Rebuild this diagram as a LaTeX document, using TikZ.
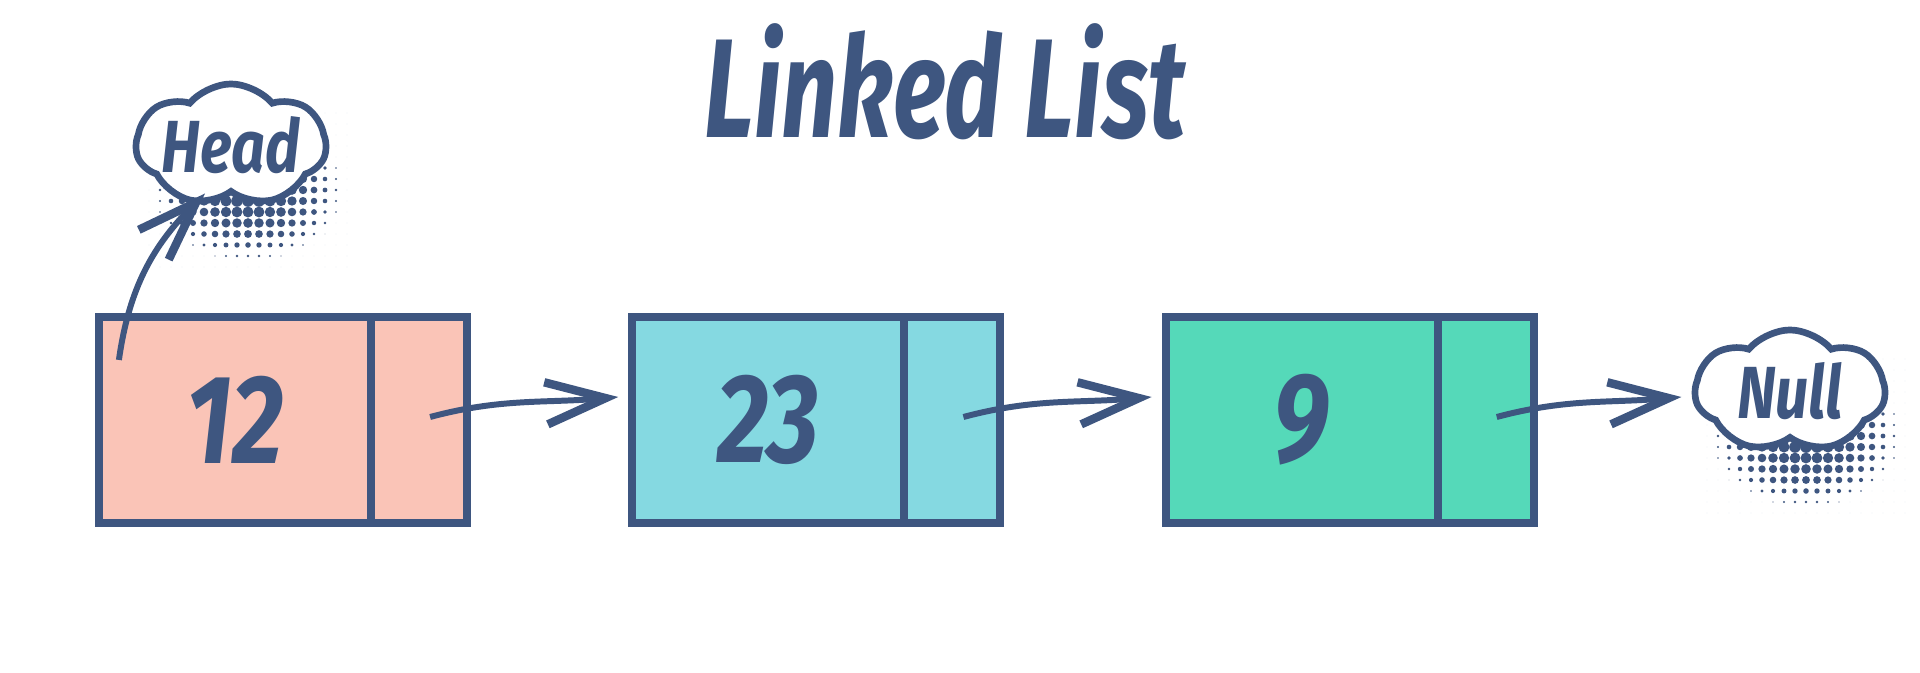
\documentclass[tikz,border=0pt]{standalone}
\usepackage{fontspec}
\setmainfont{Fira Sans}
\newfontfamily\handfont[FakeStretch=0.8]{Fira Sans}
\newfontfamily\titlefont[FakeStretch=0.7]{Fira Sans}
\usetikzlibrary{positioning,arrows.meta,shapes.symbols}

\definecolor{ink}{RGB}{62,86,128}
\definecolor{salmon}{RGB}{250,196,183}
\definecolor{aqua}{RGB}{133,217,225}
\definecolor{mint}{RGB}{85,217,185}

\begin{document}
\begin{tikzpicture}[x=0.01cm,y=0.01cm,
  cell/.style={draw=ink,line width=2.3pt,outer sep=0pt,inner sep=0pt,minimum height=2.06cm},
  datacell/.style={cell,minimum width=2.72cm,text=ink,font=\handfont\bfseries\itshape\fontsize{36}{36}\selectfont},
  ptrcell/.style={cell,minimum width=0.96cm},
  link/.style={ink,line width=1.7pt,-{Straight Barb[length=17pt,width=12pt,line width=2.4pt]}},
  bubble/.style={cloud,cloud puffs=7,cloud puff arc=100,aspect=1.55,draw=ink,line width=1.9pt,fill=white,minimum width=1.9cm,minimum height=1.22cm,inner sep=0pt},
  tag/.style={text=ink,font=\handfont\bfseries\itshape\fontsize{21}{21}\selectfont}
]
\useasboundingbox[fill=white] (0,0) rectangle (1920,672);

% Title
\node[text=ink,font=\titlefont\bfseries\itshape\fontsize{40}{40}\selectfont] (title) at (945,590) {Linked List};

% List nodes
\node[datacell,fill=salmon] (n1) at (235,252) {12};
\node[ptrcell,fill=salmon,right=0pt of n1] (p1) {};
\node[datacell,fill=aqua,right=1.65cm of p1] (n2) {23};
\node[ptrcell,fill=aqua,right=0pt of n2] (p2) {};
\node[datacell,fill=mint,right=1.65cm of p2] (n3) {9};
\node[ptrcell,fill=mint,right=0pt of n3] (p3) {};

% Halftone shadows behind the clouds
\foreach \cx/\cy in {248/482,1806/236}
  \foreach \i in {-9,...,9}
    \foreach \j in {-7,...,7} {
      \pgfmathsetmacro\dotr{max(0.01,1.7*(1-(\i*11/100)^2-(\j*11/75)^2))}
      \fill[ink] (\cx+\i*11,\cy+\j*11) circle (\dotr pt);
    }

% Clouds
\node[bubble] (headcloud) at (231,527) {};
\node[tag] (headtxt) at (headcloud) {Head};
\node[bubble] (nullcloud) at (1790,281) {};
\node[tag] (nulltxt) at (nullcloud) {Null};

% Links
\draw[link] ([shift={(11,3)}]p1.center) to[out=15,in=185] ([shift={(-14,23)}]n2.west);
\draw[link] ([shift={(11,3)}]p2.center) to[out=15,in=185] ([shift={(-14,23)}]n3.west);
\draw[link] ([shift={(11,3)}]p3.center) to[out=15,in=185] ([shift={(-10,-6)}]nullcloud.west);
\draw[link] ([shift={(20,-43)}]n1.north west) to[out=82,in=225] ([shift={(-26,2)}]headcloud.south);
\end{tikzpicture}
\end{document}
